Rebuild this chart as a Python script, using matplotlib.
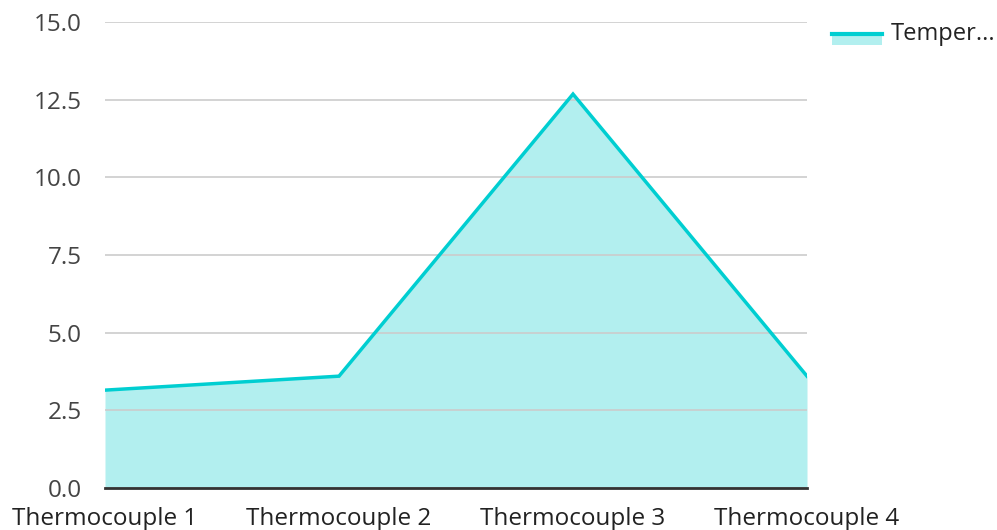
import matplotlib
matplotlib.use("Agg")
import matplotlib.pyplot as plt
from matplotlib.patches import Rectangle
from matplotlib.lines import Line2D

categories = ["Thermocouple 1", "Thermocouple 2", "Thermocouple 3", "Thermocouple 4"]
values = [3.15, 3.6, 12.68, 3.6]
y_ticks = [0.0, 2.5, 5.0, 7.5, 10.0, 12.5, 15.0]
series_name = "Temper..."

plt.rcParams['font.family'] = ['Open Sans', 'DejaVu Sans']
W, H = 997, 530
fig = plt.figure(figsize=(W/100, H/100), dpi=100)
ax = fig.add_axes([105/W, 1-488/H, (807-105)/W, (488-22)/H])

line_c = "#00CED1"
fill_c = "#B2EFEF"
x = list(range(len(categories)))
ax.fill_between(x, values, 0, color=fill_c, lw=0, zorder=1)
ax.plot(x, values, color=line_c, lw=2.5, zorder=3, solid_joinstyle='miter')

ax.set_xlim(0, 3)
ax.set_ylim(0, 15)
ax.set_yticks(y_ticks)
ax.set_yticklabels([f"{t:.1f}" for t in y_ticks])
ax.set_xticks(x)
ax.set_xticklabels(categories)
ax.grid(axis='y', color='#cccccc', lw=1.2, zorder=2)
ax.set_axisbelow(False)
for s in ['top', 'right', 'left']:
    ax.spines[s].set_visible(False)
ax.spines['bottom'].set_color('#333333')
ax.spines['bottom'].set_linewidth(2)
ax.spines['bottom'].set_zorder(4)
ax.tick_params(axis='y', length=0, pad=17, labelsize=17.5, labelcolor='#444444')
ax.tick_params(axis='x', length=0, pad=14, labelsize=17.5, labelcolor='#222222')
ax.patch.set_alpha(0)

# legend
fig.patches.append(Rectangle((832/W, 1-45/H), 50/W, 10/H, transform=fig.transFigure,
                             facecolor=fill_c, edgecolor='none'))
fig.lines.append(Line2D([832/W, 882/W], [1-34/H, 1-34/H], transform=fig.transFigure,
                        color=line_c, lw=3))
fig.text(891/W, 1-34/H, series_name, fontsize=17, color='#222222', va='center', ha='left')

fig.savefig("out.png", dpi=100)
